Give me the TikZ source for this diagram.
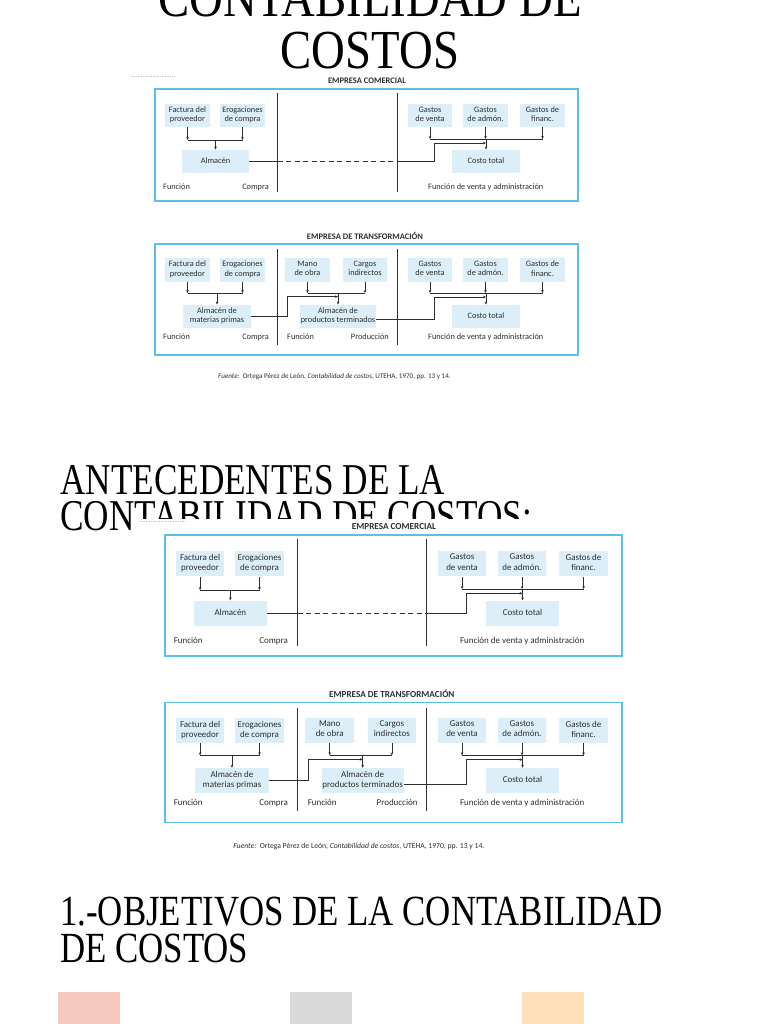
\documentclass[tikz,border=0pt]{standalone}
\usepackage{fontspec}
\usepackage{graphicx}
\usetikzlibrary{arrows.meta, positioning, calc}
\newfontfamily\serifttl{Liberation Serif}
\newfontfamily\dgsans{Carlito}
\definecolor{frameblue}{HTML}{5DBFE5}
\definecolor{cellblue}{HTML}{DCEFF9}
\definecolor{ink}{HTML}{2E2E2E}
\definecolor{sqpink}{HTML}{F5C9BD}
\definecolor{sqgray}{HTML}{D9D9D9}
\definecolor{sqpeach}{HTML}{FFE0BA}
\newcommand{\dgtext}{\dgsans\fontsize{8.3}{9.3}\selectfont}

% both figures (comercial + transformacion), local px-like units
\newcommand{\costdiagram}{%
  \fill[white] (-26,15) rectangle (450,-298);
  \draw[gray!45, densely dotted, line width=0.7pt] (-24,13) -- (20,13);
  % empresa comercial
  \node[head] (hc) at (212,8) {EMPRESA COMERCIAL};
  \draw[frame] (0,0) rectangle (423,-112);
  \draw[sep] (122.7,-4) coordinate (c1t) -- (122.7,-103);
  \draw[sep] (242.3,-4) coordinate (c2t) -- (242.3,-103);
  \node[cell, minimum width=45] (fac) at (32.5,-26.5) {Factura del\\proveedor};
  \node[cell, minimum width=45] (ero) at (87.5,-26.5) {Erogaciones\\de compra};
  \node[cell, minimum width=67] (alm) at (60.5,-72.5) {Almacén};
  \node[cell, minimum width=44] (gve) at (275,-26.5) {Gastos\\de venta};
  \node[cell, minimum width=45] (gad) at (330.5,-26.5) {Gastos\\de admón.};
  \node[cell, minimum width=45] (gfi) at (387.5,-26.5) {Gastos de\\financ.};
  \node[cell, minimum width=68] (cto) at (331,-72.5) {Costo total};
  \coordinate (lc) at (60,-51);
  \coordinate (rc) at (331,-50);
  \coordinate (kc) at (279,-54);
  \draw[arr] (fac.south) -- (fac.south |- lc);
  \draw[arr] (ero.south) -- (ero.south |- lc);
  \draw[link] (fac.south |- lc) -- (ero.south |- lc);
  \draw[arr] (alm.north |- lc) -- (alm.north);
  \draw[arr] (gve.south) -- (gve.south |- rc);
  \draw[arr] (gad.south) -- (gad.south |- rc);
  \draw[arr] (gfi.south) -- (gfi.south |- rc);
  \draw[link] (gve.south |- rc) -- (gfi.south |- rc);
  \draw[arr] (cto.north |- rc) -- (cto.north);
  \draw[link] (alm.east) -- (alm.east -| c1t);
  \draw[link, dash pattern=on 5pt off 3.5pt] (alm.east -| c1t) -- (alm.east -| c2t);
  \draw[arr] (alm.east -| c2t) -| (kc) -- (cto.north |- kc);
  \node[lbl, anchor=base west] (fn1) at (8,-100.5) {Función};
  \node[lbl, anchor=base east] (cp1) at (114,-100.5) {Compra};
  \node[lbl, anchor=base west] (fv1) at (273,-100.5) {Función de venta y administración};
  % empresa de transformacion
  \begin{scope}[shift={(0,-155)}]
    \node[head] (ht) at (210,8) {EMPRESA DE TRANSFORMACIÓN};
    \draw[frame] (0,0) rectangle (423,-111);
    \draw[sep] (122.7,-5) coordinate (t1t) -- (122.7,-101);
    \draw[sep] (242.3,-5) coordinate (t2t) -- (242.3,-101);
    \node[cell, minimum width=45] (fac) at (32.5,-26) {Factura del\\proveedor};
    \node[cell, minimum width=45] (ero) at (87.5,-26) {Erogaciones\\de compra};
    \node[cell, minimum width=45] (mob) at (152.5,-26) {Mano\\de obra};
    \node[cell, minimum width=44] (cin) at (210,-26) {Cargos\\indirectos};
    \node[cell, minimum width=44] (gve) at (275,-26) {Gastos\\de venta};
    \node[cell, minimum width=45] (gad) at (330.5,-26) {Gastos\\de admón.};
    \node[cell, minimum width=45] (gfi) at (387.5,-26) {Gastos de\\financ.};
    \node[cell, minimum width=68] (amp) at (62,-72.5) {Almacén de\\materias primas};
    \node[cell, minimum width=76] (apt) at (183,-72.5) {Almacén de\\productos terminados};
    \node[cell, minimum width=68] (cto) at (331,-72.5) {Costo total};
    \coordinate (lt) at (0,-49);
    \coordinate (ka) at (132.7,-52.7);
    \coordinate (kb) at (279,-53);
    \foreach \n in {fac,ero,mob,cin,gve,gad,gfi}
      \draw[arr] (\n.south) -- (\n.south |- lt);
    \draw[link] (fac.south |- lt) -- (ero.south |- lt);
    \draw[link] (mob.south |- lt) -- (cin.south |- lt);
    \draw[link] (gve.south |- lt) -- (gfi.south |- lt);
    \draw[arr] (amp.north |- lt) -- (amp.north);
    \draw[arr] (apt.north |- lt) -- (apt.north);
    \draw[arr] (cto.north |- lt) -- (cto.north);
    \draw[arr] (amp.east) -| (ka) -- (apt.north |- ka);
    \draw[arr] ([yshift=-3]apt.east) -| (kb) -- (cto.north |- kb);
    \node[lbl, anchor=base west] (fn2) at (8,-95.5) {Función};
    \node[lbl, anchor=base east] (cp2) at (114,-95.5) {Compra};
    \node[lbl, anchor=base west] (fn3) at (132,-95.5) {Función};
    \node[lbl, anchor=base east] (pr3) at (234,-95.5) {Producción};
    \node[lbl, anchor=base west] (fv2) at (273,-95.5) {Función de venta y administración};
    \node[src, anchor=west] (fte) at (63,-133)
      {\itshape Fuente:\upshape\ \ Ortega Pérez de León, \itshape Contabilidad de costos\upshape, UTEHA, 1970, pp. 13 y 14.};
  \end{scope}
}

\begin{document}
\begin{tikzpicture}[x=1pt, y=1pt,
    ttl/.style={inner sep=0pt, font=\serifttl, text=black},
    head/.style={inner sep=0pt, font=\dgsans\bfseries\fontsize{8.5}{9}\selectfont, text=ink},
    cell/.style={fill=cellblue, inner sep=0pt, minimum height=23.5, align=center, font=\dgtext, text=ink,
                 execute at begin node=\strut, execute at end node=\strut},
    lbl/.style={inner sep=0pt, font=\dgtext, text=ink},
    src/.style={inner sep=0pt, font=\dgsans\fontsize{7.1}{8}\selectfont, text=ink},
    frame/.style={draw=frameblue, line width=1.5pt},
    sep/.style={draw=ink, line width=0.8pt},
    link/.style={draw=ink, line width=0.6pt},
    arr/.style={link, -{Stealth[length=3pt, width=2.6pt]}}]
  \useasboundingbox (0,0) rectangle (768,1024);
  \clip (0,0) rectangle (768,1024);
  \fill[white] (0,0) rectangle (768,1024);
  % slide titles
  \node[ttl, anchor=base, font=\serifttl\fontsize{55}{55}\selectfont] (t1a) at (370,1007.3) {\scalebox{0.85}[1]{CONTABILIDAD DE}};
  \node[ttl, anchor=base, font=\serifttl\fontsize{55}{55}\selectfont] (t1b) at (370,955.7) {\scalebox{0.85}[1]{COSTOS}};
  \node[ttl, anchor=base west, font=\serifttl\fontsize{44}{44}\selectfont] (t2a) at (60,529) {\scalebox{0.8}[1]{ANTECEDENTES DE LA}};
  \node[ttl, anchor=base west, font=\serifttl\fontsize{44}{44}\selectfont] (t2b) at (60,493) {\scalebox{0.8}[1]{CONTABILIDAD DE COSTOS:}};
  \node[ttl, anchor=base west, font=\serifttl\fontsize{43}{43}\selectfont] (t3a) at (60,98) {\scalebox{0.81}[1]{1.-OBJETIVOS DE LA CONTABILIDAD}};
  \node[ttl, anchor=base west, font=\serifttl\fontsize{43}{43}\selectfont] (t3b) at (60,61) {\scalebox{0.81}[1]{DE COSTOS}};
  % colour squares at the foot
  \fill[sqpink] (58,0) rectangle (120,32);
  \fill[sqgray] (290,0) rectangle (352,32);
  \fill[sqpeach] (522,0) rectangle (584,32);
  % the figure, twice
  \begin{scope}[shift={(155,935)}]
    \costdiagram
  \end{scope}
  \begin{scope}[shift={(165,489)}, scale=1.08, transform shape]
    \costdiagram
  \end{scope}
\end{tikzpicture}
\end{document}
